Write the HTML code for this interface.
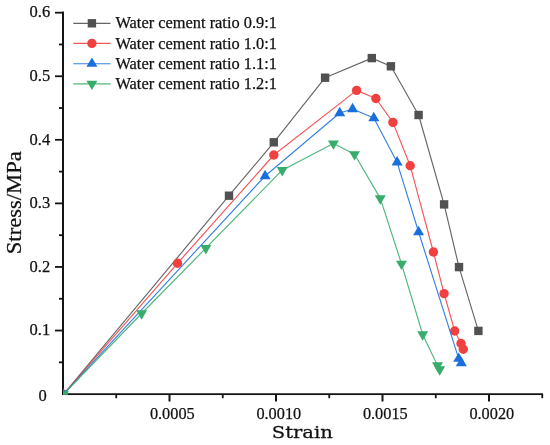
<!DOCTYPE html>
<html><head><meta charset="utf-8"><title>Stress-Strain</title>
<style>
html,body{margin:0;padding:0;background:#fff;}
body{width:550px;height:445px;overflow:hidden;}
svg{display:block;filter:blur(0.35px);}
text{font-family:"Liberation Serif","Times New Roman",serif;fill:#111;stroke:#111;stroke-width:0.25px;}
.tk{font-size:16.5px;}
.tx{font-size:16.3px;}
.lg{font-size:16.4px;}
.yl{font-size:21.9px;}
.xl{font-family:"DejaVu Serif","Liberation Serif",serif;font-size:16.9px;}
</style></head><body>
<svg width="550" height="445" viewBox="0 0 550 445">
<rect width="550" height="445" fill="#fff"/>
<defs><clipPath id="cp"><rect x="63.0" y="0" width="487" height="394.7"/></clipPath></defs>

<g fill="#141414">
<rect x="62" y="11.6" width="2" height="383.4"/>
<rect x="62" y="393.25" width="481.0" height="1.8"/>
<rect x="55" y="329.63" width="8" height="1.8"/>
<rect x="55" y="266.06" width="8" height="1.8"/>
<rect x="55" y="202.49" width="8" height="1.8"/>
<rect x="55" y="138.92" width="8" height="1.8"/>
<rect x="55" y="75.35" width="8" height="1.8"/>
<rect x="55" y="11.78" width="8" height="1.8"/>
<rect x="59" y="361.42" width="4" height="1.8"/>
<rect x="59" y="297.85" width="4" height="1.8"/>
<rect x="59" y="234.28" width="4" height="1.8"/>
<rect x="59" y="170.71" width="4" height="1.8"/>
<rect x="59" y="107.14" width="4" height="1.8"/>
<rect x="59" y="43.57" width="4" height="1.8"/>
<rect x="168.50" y="394" width="2" height="7.5"/>
<rect x="275.00" y="394" width="2" height="7.5"/>
<rect x="381.50" y="394" width="2" height="7.5"/>
<rect x="488.00" y="394" width="2" height="7.5"/>
<rect x="115.35" y="394" width="1.8" height="4.2"/>
<rect x="221.85" y="394" width="1.8" height="4.2"/>
<rect x="328.35" y="394" width="1.8" height="4.2"/>
<rect x="434.85" y="394" width="1.8" height="4.2"/>
<rect x="541.35" y="394" width="1.8" height="4.2"/>
</g>
<text class="tk" x="29.6" y="335.23">0.1</text>
<text class="tk" x="29.6" y="271.66">0.2</text>
<text class="tk" x="29.6" y="208.09">0.3</text>
<text class="tk" x="29.6" y="144.52">0.4</text>
<text class="tk" x="29.6" y="80.95">0.5</text>
<text class="tk" x="29.6" y="17.38">0.6</text>
<text class="tk" x="38.4" y="400.8">0</text>
<text class="tx" x="149.90" y="418.5">0.0005</text>
<text class="tx" x="256.40" y="418.5">0.0010</text>
<text class="tx" x="362.90" y="418.5">0.0015</text>
<text class="tx" x="469.40" y="418.5">0.0020</text>
<text class="xl" transform="translate(271.7,438) scale(1.16,1)">Strain</text>
<text class="yl" transform="translate(20.7,254.2) rotate(-90) scale(1.032,1)">Stress/MPa</text>
<g clip-path="url(#cp)">
<polyline points="63.40,394.40 229.00,195.70 273.80,142.30 325.10,77.70 371.80,58.10 390.90,66.30 418.60,115.00 444.10,204.40 459.00,267.10 478.40,330.90" fill="none" stroke="#515151" stroke-width="1.15" stroke-opacity="0.88" stroke-linejoin="round"/>
<rect x="59.20" y="390.20" width="8.4" height="8.4" fill="#515151"/>
<rect x="224.80" y="191.50" width="8.4" height="8.4" fill="#515151"/>
<rect x="269.60" y="138.10" width="8.4" height="8.4" fill="#515151"/>
<rect x="320.90" y="73.50" width="8.4" height="8.4" fill="#515151"/>
<rect x="367.60" y="53.90" width="8.4" height="8.4" fill="#515151"/>
<rect x="386.70" y="62.10" width="8.4" height="8.4" fill="#515151"/>
<rect x="414.40" y="110.80" width="8.4" height="8.4" fill="#515151"/>
<rect x="439.90" y="200.20" width="8.4" height="8.4" fill="#515151"/>
<rect x="454.80" y="262.90" width="8.4" height="8.4" fill="#515151"/>
<rect x="474.20" y="326.70" width="8.4" height="8.4" fill="#515151"/>
<polyline points="63.40,394.40 177.50,263.30 273.80,155.00 356.60,90.40 375.90,98.50 392.90,122.40 410.20,165.80 433.40,252.00 444.10,293.60 454.70,331.00 461.00,343.50 463.30,349.30" fill="none" stroke="#F14040" stroke-width="1.15" stroke-opacity="0.88" stroke-linejoin="round"/>
<circle cx="63.40" cy="394.40" r="4.7" fill="#F14040"/>
<circle cx="177.50" cy="263.30" r="4.7" fill="#F14040"/>
<circle cx="273.80" cy="155.00" r="4.7" fill="#F14040"/>
<circle cx="356.60" cy="90.40" r="4.7" fill="#F14040"/>
<circle cx="375.90" cy="98.50" r="4.7" fill="#F14040"/>
<circle cx="392.90" cy="122.40" r="4.7" fill="#F14040"/>
<circle cx="410.20" cy="165.80" r="4.7" fill="#F14040"/>
<circle cx="433.40" cy="252.00" r="4.7" fill="#F14040"/>
<circle cx="444.10" cy="293.60" r="4.7" fill="#F14040"/>
<circle cx="454.70" cy="331.00" r="4.7" fill="#F14040"/>
<circle cx="461.00" cy="343.50" r="4.7" fill="#F14040"/>
<circle cx="463.30" cy="349.30" r="4.7" fill="#F14040"/>
<polyline points="63.40,394.40 265.10,176.00 339.70,113.00 352.60,109.00 373.80,118.00 397.10,162.30 418.60,232.00 458.70,358.70 461.30,363.00" fill="none" stroke="#1A6FDF" stroke-width="1.15" stroke-opacity="0.88" stroke-linejoin="round"/>
<polygon points="63.40,388.13 57.90,397.53 68.90,397.53" fill="#1A6FDF"/>
<polygon points="265.10,169.73 259.60,179.13 270.60,179.13" fill="#1A6FDF"/>
<polygon points="339.70,106.73 334.20,116.13 345.20,116.13" fill="#1A6FDF"/>
<polygon points="352.60,102.73 347.10,112.13 358.10,112.13" fill="#1A6FDF"/>
<polygon points="373.80,111.73 368.30,121.13 379.30,121.13" fill="#1A6FDF"/>
<polygon points="397.10,156.03 391.60,165.43 402.60,165.43" fill="#1A6FDF"/>
<polygon points="418.60,225.73 413.10,235.13 424.10,235.13" fill="#1A6FDF"/>
<polygon points="458.70,352.43 453.20,361.83 464.20,361.83" fill="#1A6FDF"/>
<polygon points="461.30,356.73 455.80,366.13 466.80,366.13" fill="#1A6FDF"/>
<polyline points="63.40,394.40 141.60,313.50 205.80,248.20 282.20,170.20 333.40,143.60 354.50,154.30 380.30,198.40 401.50,263.80 422.70,334.50 437.50,365.40 439.70,369.50" fill="none" stroke="#37AD6B" stroke-width="1.15" stroke-opacity="0.88" stroke-linejoin="round"/>
<polygon points="63.40,400.67 57.90,391.27 68.90,391.27" fill="#37AD6B"/>
<polygon points="141.60,319.77 136.10,310.37 147.10,310.37" fill="#37AD6B"/>
<polygon points="205.80,254.47 200.30,245.07 211.30,245.07" fill="#37AD6B"/>
<polygon points="282.20,176.47 276.70,167.07 287.70,167.07" fill="#37AD6B"/>
<polygon points="333.40,149.87 327.90,140.47 338.90,140.47" fill="#37AD6B"/>
<polygon points="354.50,160.57 349.00,151.17 360.00,151.17" fill="#37AD6B"/>
<polygon points="380.30,204.67 374.80,195.27 385.80,195.27" fill="#37AD6B"/>
<polygon points="401.50,270.07 396.00,260.67 407.00,260.67" fill="#37AD6B"/>
<polygon points="422.70,340.77 417.20,331.37 428.20,331.37" fill="#37AD6B"/>
<polygon points="437.50,371.67 432.00,362.27 443.00,362.27" fill="#37AD6B"/>
<polygon points="439.70,375.77 434.20,366.37 445.20,366.37" fill="#37AD6B"/>
</g>
<line x1="73.3" y1="23.3" x2="110.5" y2="23.3" stroke="#515151" stroke-width="1.15" stroke-opacity="0.88"/>
<rect x="87.70" y="19.10" width="8.4" height="8.4" fill="#515151"/>
<text class="lg" x="115.4" y="28.40">Water cement ratio 0.9:1</text>
<line x1="73.3" y1="43.4" x2="110.5" y2="43.4" stroke="#F14040" stroke-width="1.15" stroke-opacity="0.88"/>
<circle cx="91.90" cy="43.40" r="4.7" fill="#F14040"/>
<text class="lg" x="115.4" y="48.50">Water cement ratio 1.0:1</text>
<line x1="73.3" y1="63.7" x2="110.5" y2="63.7" stroke="#1A6FDF" stroke-width="1.15" stroke-opacity="0.88"/>
<polygon points="91.90,57.43 86.40,66.83 97.40,66.83" fill="#1A6FDF"/>
<text class="lg" x="115.4" y="68.80">Water cement ratio 1.1:1</text>
<line x1="73.3" y1="83.8" x2="110.5" y2="83.8" stroke="#37AD6B" stroke-width="1.15" stroke-opacity="0.88"/>
<polygon points="91.90,90.07 86.40,80.67 97.40,80.67" fill="#37AD6B"/>
<text class="lg" x="115.4" y="88.90">Water cement ratio 1.2:1</text>
</svg></body></html>
